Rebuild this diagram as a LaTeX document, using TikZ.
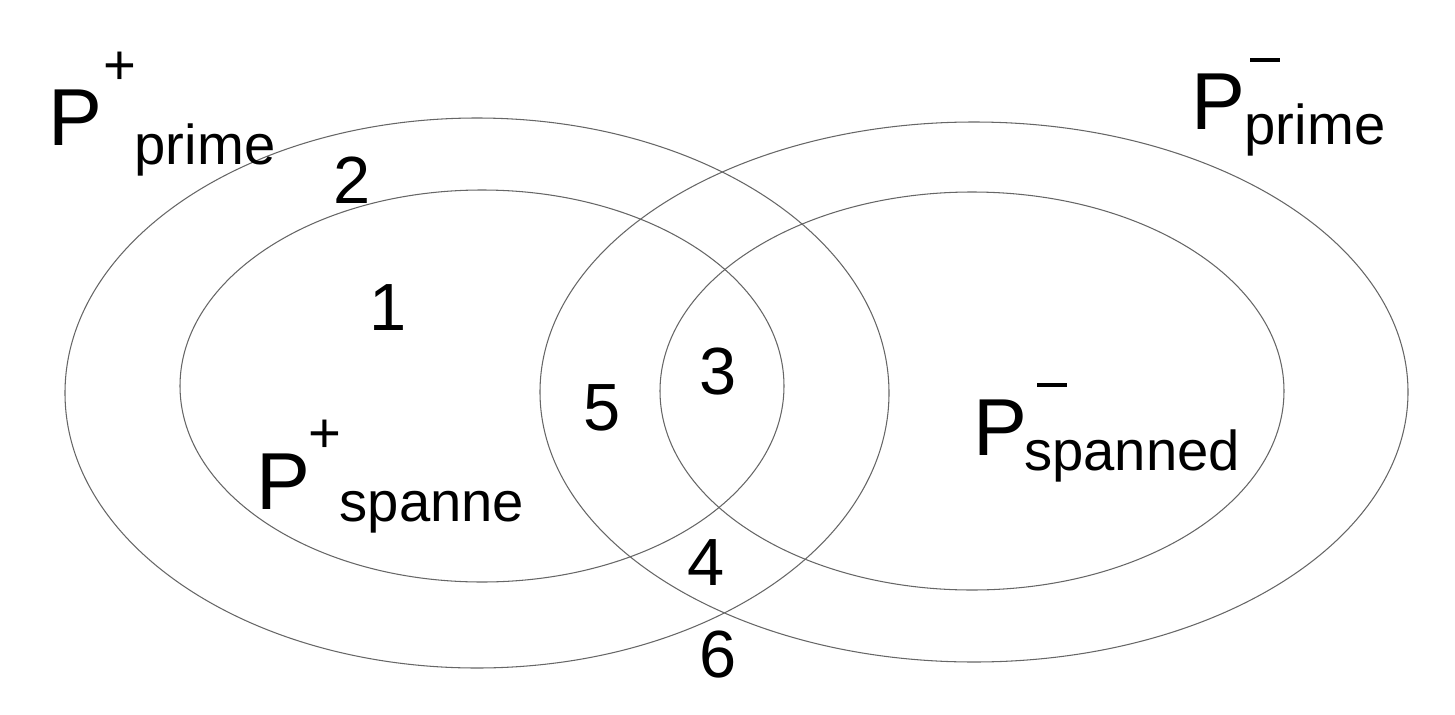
\documentclass[tikz,border=0pt]{standalone}
\usepackage{fontspec}
\setmainfont{Liberation Sans}
\begin{document}
\begin{tikzpicture}[x=0.02cm,y=-0.02cm,
  ring/.style={draw=black!60,line width=0.6pt},
  big/.style={font=\fontsize{46}{46}\selectfont,inner sep=0pt},
  num/.style={font=\fontsize{38}{38}\selectfont,inner sep=0pt},
  sub/.style={font=\fontsize{32}{32}\selectfont,inner sep=0pt}]
\useasboundingbox (0,0) rectangle (1455,714);
\draw[ring] (477,393) ellipse [x radius=412, y radius=275];
\draw[ring] (482,386) ellipse [x radius=302, y radius=196];
\draw[ring] (974,392) ellipse [x radius=434, y radius=270];
\draw[ring] (972,391) ellipse [x radius=312, y radius=199];
% P+prime
\node[big] (pa) at (75,118) {P};
\node[sub] (pas) at (120,68) {+};
\node[sub] (pab) at (205,150) {prime};
% P-prime
\node[big] (pb) at (1218,102) {P};
\node[sub] (pbs) at (1265,60) {\rule{17pt}{2.6pt}};
\node[sub] (pbb) at (1315,130) {prime};
% P+spanne
\node[big] (pc) at (283,482) {P};
\node[sub] (pcs) at (325,436) {+};
\node[sub] (pcb) at (432,512) {spanne};
% P-spanned
\node[big] (pd) at (1000,428) {P};
\node[sub] (pds) at (1052,385) {\rule{17pt}{2.6pt}};
\node[sub] (pdb) at (1132,456) {spanned};
% numbers
\node[num] (n1) at (388,308) {1};
\node[num] (n2) at (352,180) {2};
\node[num] (n3) at (718,372) {3};
\node[num] (n4) at (706,563) {4};
\node[num] (n5) at (602,408) {5};
\node[num] (n6) at (718,655) {6};
\end{tikzpicture}
\end{document}
